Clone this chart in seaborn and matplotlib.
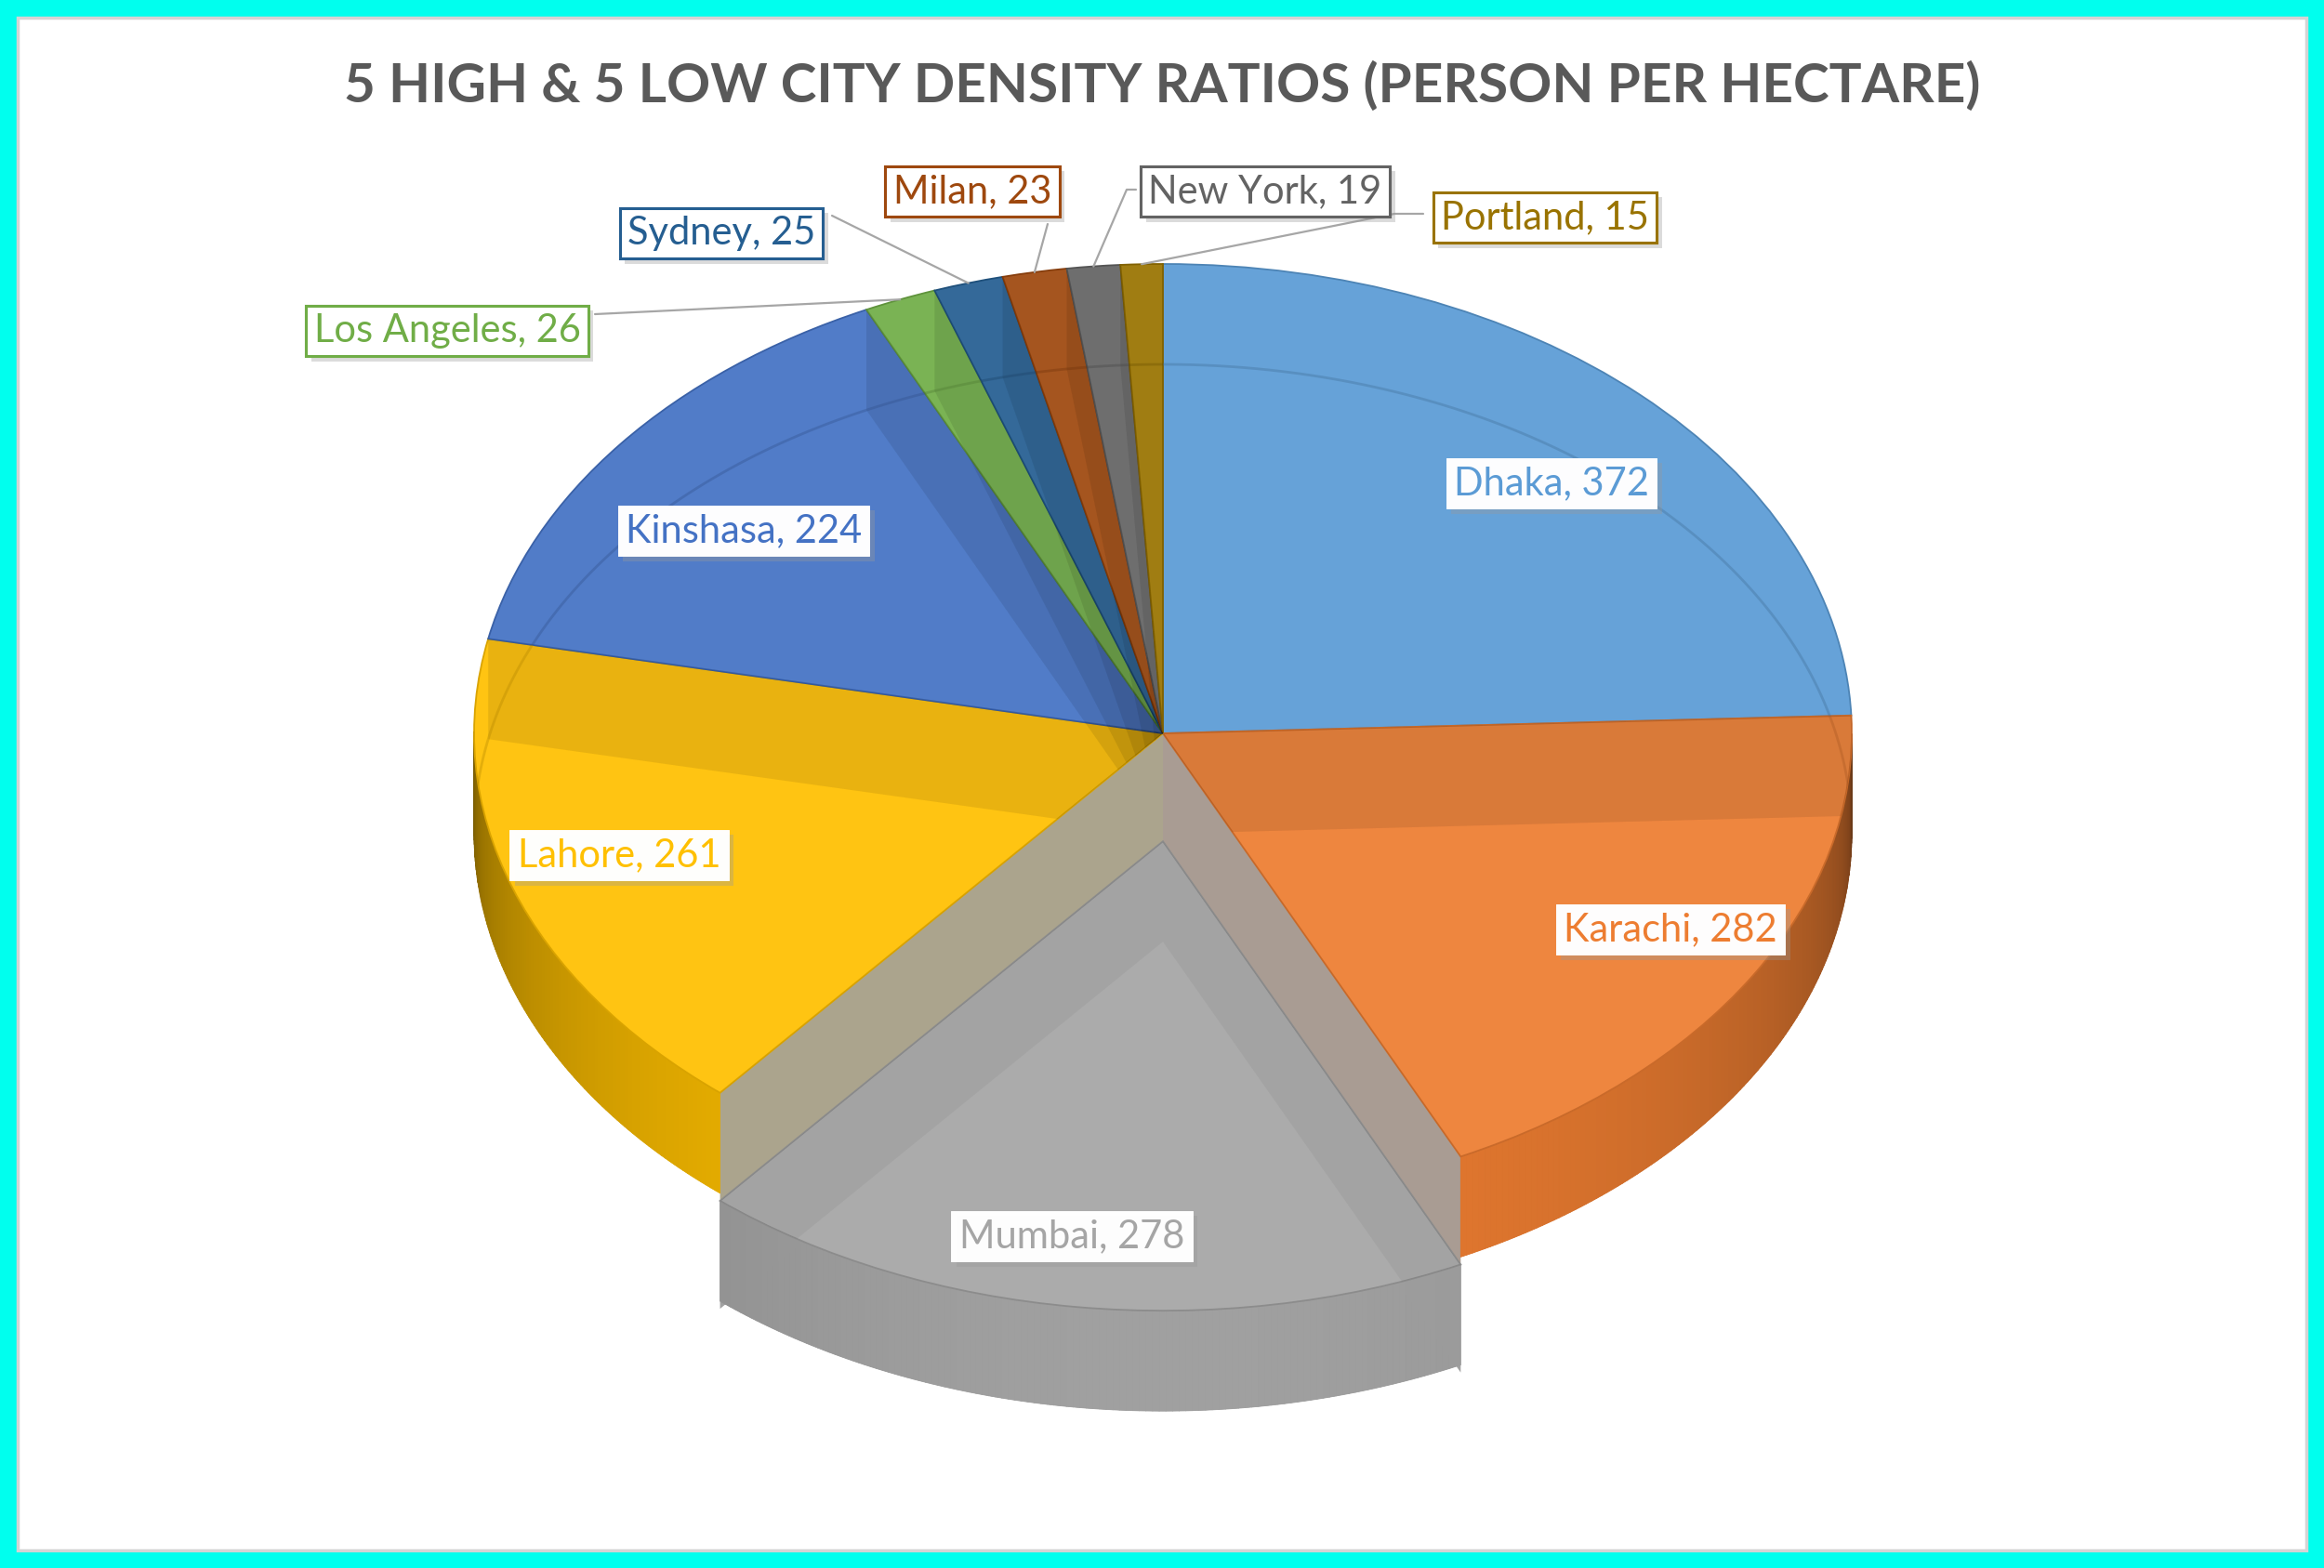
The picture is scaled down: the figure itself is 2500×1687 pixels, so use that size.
import numpy as np
import matplotlib
matplotlib.use("Agg")
import matplotlib.pyplot as plt
import matplotlib.patheffects as pe
from matplotlib.collections import PolyCollection
from matplotlib.colors import to_rgb
from matplotlib.patches import Rectangle
import seaborn as sns

# data
cities = ["Dhaka", "Karachi", "Mumbai", "Lahore", "Kinshasa",
          "Los Angeles", "Sydney", "Milan", "New York", "Portland"]
density = [372, 282, 278, 261, 224, 26, 25, 23, 19, 15]
colors = ["#5B9BD5", "#ED7D31", "#A5A5A5", "#FFC000", "#4472C4",
          "#70AD47", "#255E91", "#9E480E", "#636363", "#997300"]
explode = [0, 0, 0.23, 0, 0, 0, 0, 0, 0, 0]
title = "5 HIGH & 5 LOW CITY DENSITY RATIOS (PERSON PER HECTARE)"

# label box centres in pixels
label_px = {
    "Dhaka": (1669, 520), "Karachi": (1797, 1000), "Mumbai": (1153, 1330),
    "Lahore": (666, 920), "Kinshasa": (800, 571), "Los Angeles": (481, 356),
    "Sydney": (776, 251), "Milan": (1046, 206), "New York": (1361, 206),
    "Portland": (1662, 234),
}
# leader line anchors on the box (pixels), with optional elbow
leader_px = {
    "Los Angeles": [(640, 338)],
    "Sydney": [(895, 232)],
    "Milan": [(1127, 241)],
    "New York": [(1222, 204), (1212, 204)],
    "Portland": [(1531, 230), (1500, 230)],
}

W, H = 2500, 1687
CX, CY = 1251, 789      # pie centre in pixels
RX, RY = 741, 505       # ellipse radii in pixels
DEPTH = 108 / RY        # thickness in radius units
WALL = max(DEPTH, max(explode))  # inner walls reach down to the pulled-out slice


def mix(c1, c2, t):
    a, b = np.array(to_rgb(c1)), np.array(to_rgb(c2))
    return tuple(a * (1 - t) + b * t)


def shade(c, f):
    return tuple(np.clip(np.array(to_rgb(c)) * f, 0, 1))


def to_data(px, py):
    return (px - CX) / RX, (CY - py) / RY


sns.set_theme(style="white")
plt.rcParams["font.family"] = ["Lato", "DejaVu Sans"]

fig = plt.figure(figsize=(W / 100, H / 100), dpi=100)
fig.patch.set_facecolor("#00FFEE")
fig.add_artist(Rectangle((19 / W, 19 / H), (W - 38) / W, (H - 38) / H,
                         transform=fig.transFigure, facecolor="white",
                         edgecolor="#d4d4d4", lw=2.5, zorder=-1))
ax = fig.add_axes([0, 0, 1, 1])
ax.patch.set_visible(False)

bottom, _ = ax.pie(density, colors=[shade(c, 0.9) for c in colors],
                   startangle=90, counterclock=False,
                   center=(0, -DEPTH), wedgeprops=dict(lw=0))
top, _ = ax.pie(density, colors=[mix(c, "white", 0.07) for c in colors],
                startangle=90, counterclock=False,
                center=(0, 0), wedgeprops=dict(lw=1.3))

walls_by_group = {1: [], 5: []}
for i, (b, t) in enumerate(zip(bottom, top)):
    # exploded slice is pulled straight towards the viewer
    if explode[i] > 0:
        t.set_center((0, -explode[i]))
        b.set_center((0, -explode[i] - DEPTH))
    zb = 5 if explode[i] > 0 else 1
    b.set_zorder(zb)
    t.set_zorder(zb + 3)
    t.set_edgecolor(shade(colors[i], 0.85))

    cx, cy = t.center
    th1, th2 = np.radians(t.theta1), np.radians(t.theta2)

    # radial walls, back ones first
    for a in (th1, th2):
        ex, ey = cx + np.cos(a), cy + np.sin(a)
        quad = [(cx, cy), (ex, ey), (ex, ey - DEPTH), (cx, cy - DEPTH)]
        walls_by_group[zb].append(quad)
        deep = [(cx, cy), (ex, ey), (ex, ey - WALL), (cx, cy - WALL)]
        ax.add_collection(PolyCollection([deep], facecolors=[mix(colors[i], "#a0a0a0", 0.88)],
                                         edgecolors="none", zorder=zb + 1 - 0.1 * np.sin(a)))

    # curved side wall, shaded by angle
    ts = np.linspace(th1, th2, 120)
    quads, fc = [], []
    for a0, a1 in zip(ts[:-1], ts[1:]):
        am = 0.5 * (a0 + a1)
        if np.sin(am) >= 0:
            continue
        x0, y0 = cx + np.cos(a0), cy + np.sin(a0)
        x1, y1 = cx + np.cos(a1), cy + np.sin(a1)
        quads.append([(x0, y0), (x1, y1), (x1, y1 - DEPTH), (x0, y0 - DEPTH)])
        fc.append(shade(colors[i], 0.42 + 0.55 * (-np.sin(am)) ** 0.6))
    if quads:
        ax.add_collection(PolyCollection(quads, facecolors=fc, edgecolors=fc,
                                         lw=0.6, zorder=zb + 2))

# see-through hints on the top faces: inner walls and bottom rim
ring = np.linspace(0, 2 * np.pi, 400)
for i, t in enumerate(top):
    zb = 5 if explode[i] > 0 else 1
    pc = PolyCollection(walls_by_group[zb], facecolors=(0, 0, 0, 0.045),
                        edgecolors="none", zorder=zb + 3.5)
    ax.add_collection(pc)
    pc.set_clip_path(t)
    cx, cy = t.center
    ln, = ax.plot(cx + np.cos(ring), cy - DEPTH + np.sin(ring),
                  color=shade(colors[i], 0.7), alpha=0.35, lw=2, zorder=zb + 3.6)
    ln.set_clip_path(t)

# labels
for i, city in enumerate(cities):
    x, y = to_data(*label_px[city])
    outside = city in leader_px
    txt = ax.text(x, y, f"{city}, {density[i]}", ha="center", va="center",
                  fontsize=30, color=colors[i], zorder=20,
                  bbox=dict(boxstyle="square,pad=0.2", facecolor="white",
                            alpha=1.0 if outside else 0.9,
                            edgecolor=colors[i] if outside else "white",
                            lw=2.2 if outside else 0.5))
    txt.get_bbox_patch().set_path_effects(
        [pe.withSimplePatchShadow(offset=(4, -4), shadow_rgbFace="#999999", alpha=0.35),
         pe.Normal()])
    if outside:
        t = top[i]
        mid = np.radians(0.5 * (t.theta1 + t.theta2))
        rim = (t.center[0] + np.cos(mid), t.center[1] + np.sin(mid))
        pts = [to_data(*p) for p in leader_px[city]] + [rim]
        xs, ys = zip(*pts)
        ax.plot(xs, ys, color="#a6a6a6", lw=1.6, zorder=19)

ax.set_xlim(-CX / RX, (W - CX) / RX)
ax.set_ylim(-(H - CY) / RY, CY / RY)
ax.set_aspect("auto")
ax.axis("off")

fig.text(1250 / W, 1 - 93 / H, title, ha="center", va="center",
         fontsize=42, fontweight="bold", color="#595959")

fig.savefig("out.png", dpi=100, facecolor=fig.get_facecolor())
